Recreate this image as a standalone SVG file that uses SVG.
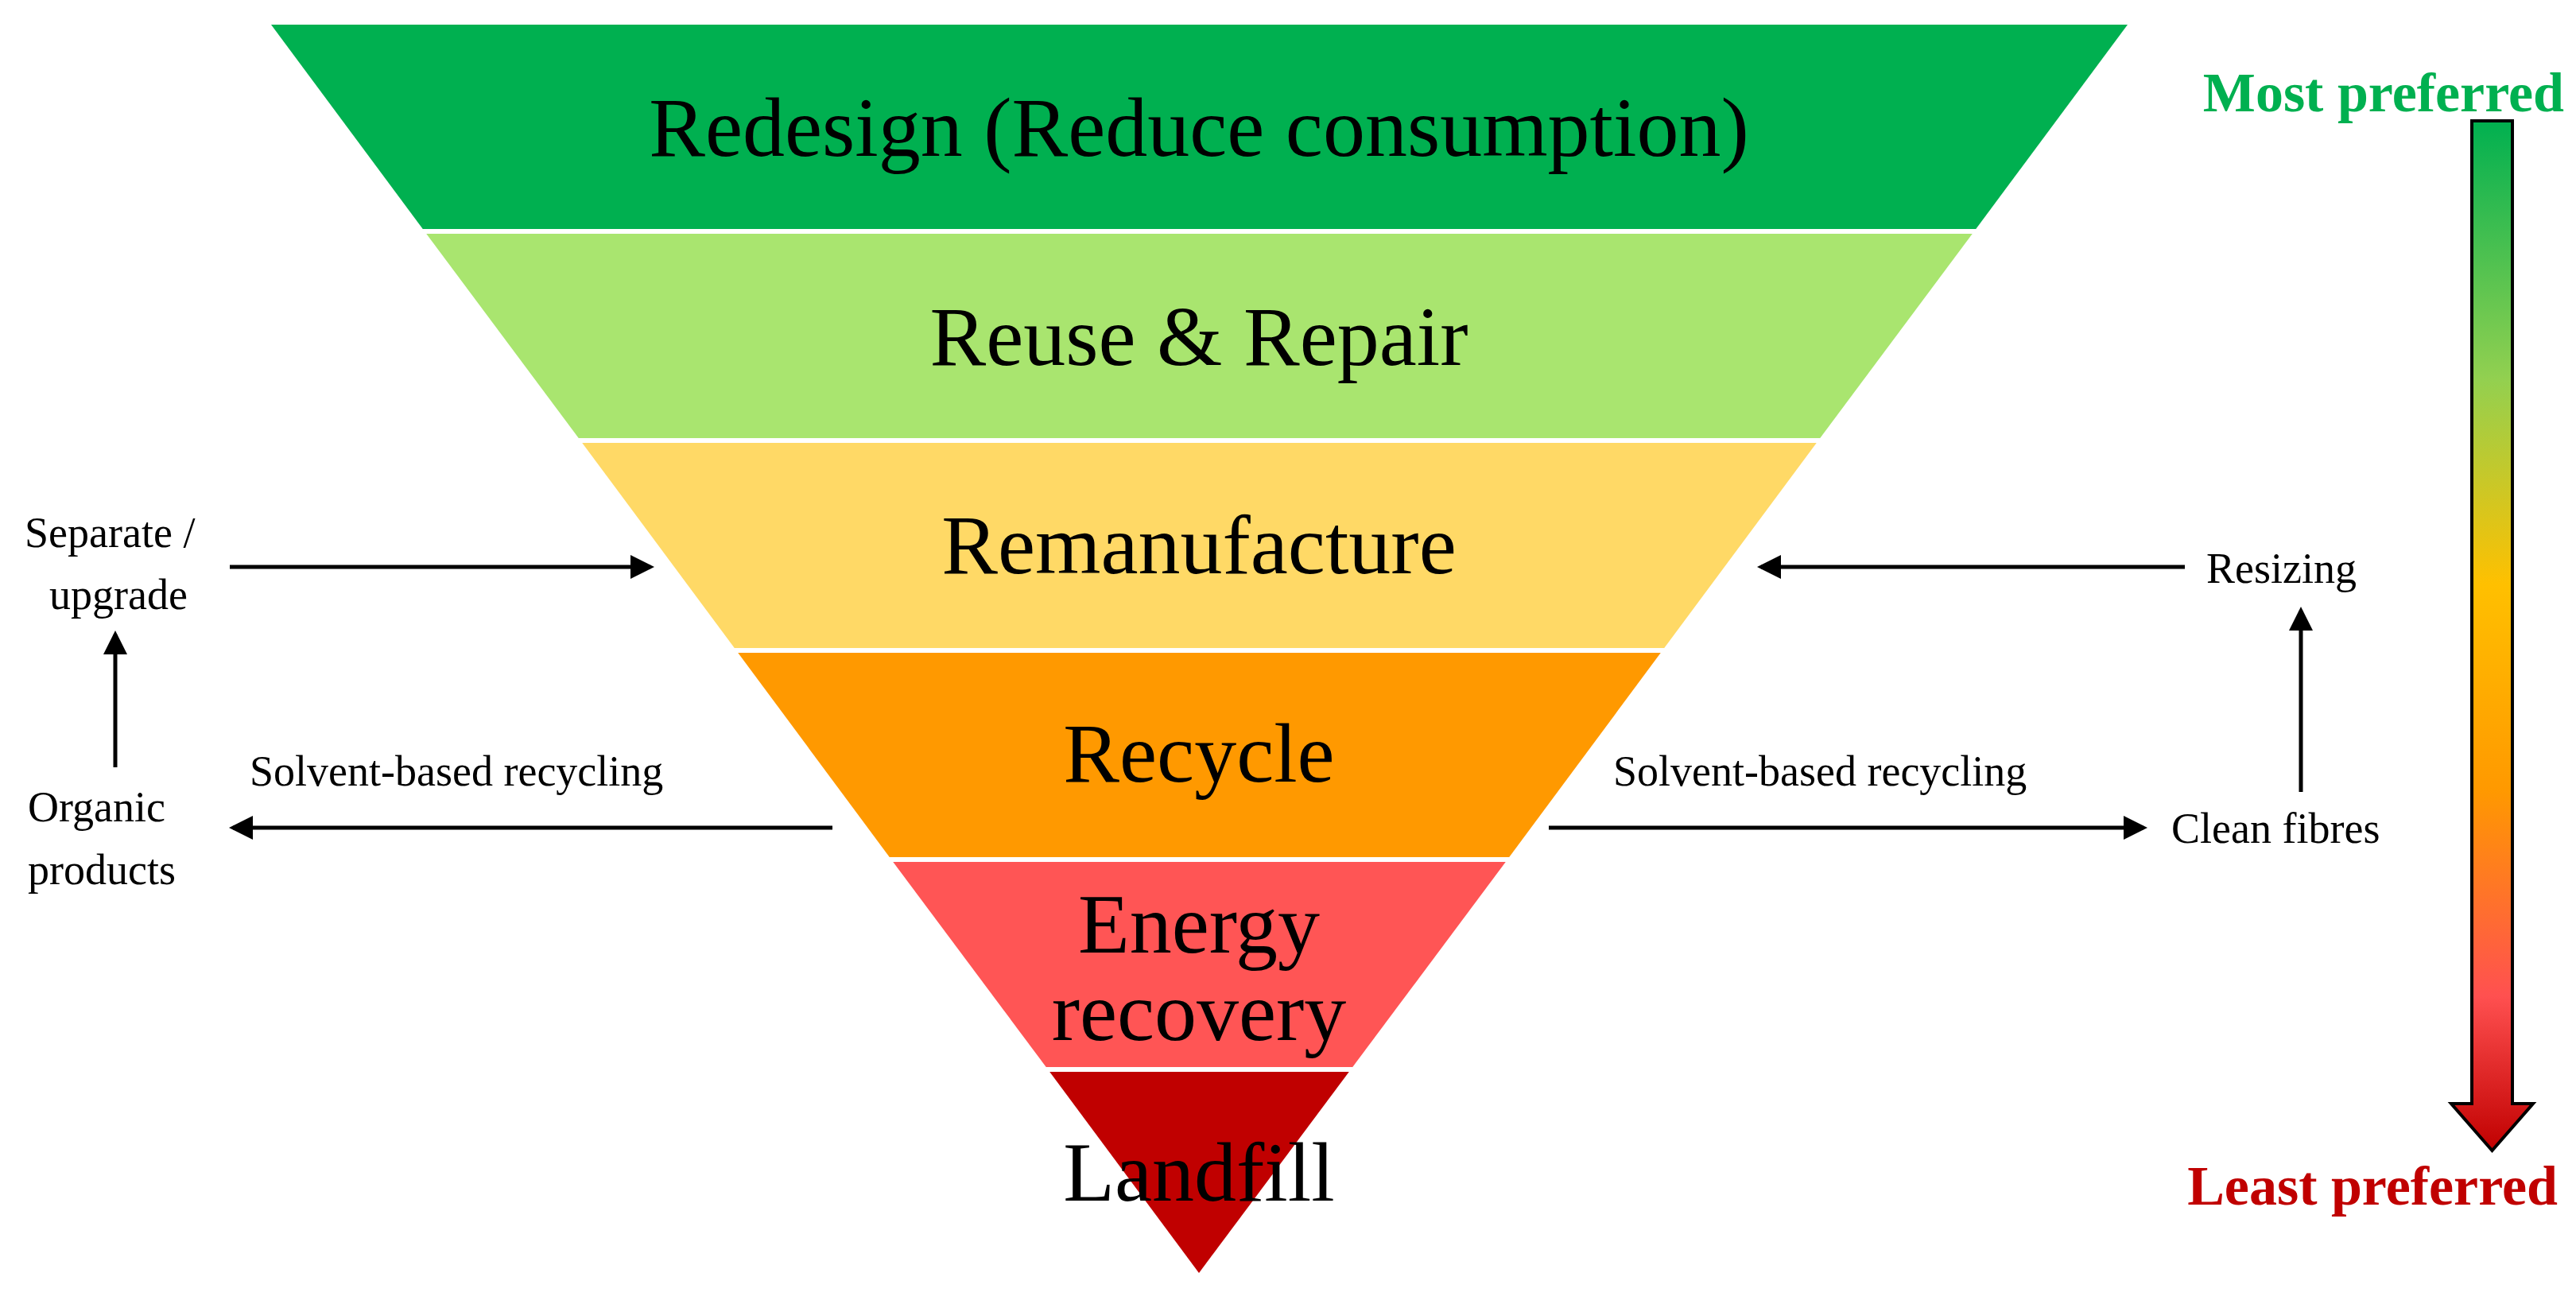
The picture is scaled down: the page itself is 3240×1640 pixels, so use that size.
<svg xmlns="http://www.w3.org/2000/svg" width="3240" height="1640" viewBox="0 0 3240 1640">
<style>
.big{font-family:"Liberation Serif",serif;font-size:106px;fill:#000;text-anchor:middle}
.sm{font-family:"Liberation Serif",serif;font-size:54px;fill:#000}
.pref{font-family:"Liberation Serif",serif;font-size:70px;font-weight:bold;text-anchor:end}
.ln{stroke:#000;stroke-width:5;fill:none;marker-end:url(#ah)}
.sep{stroke:#fff;stroke-width:6}
</style>
<defs>
<marker id="ah" markerWidth="6" markerHeight="6" refX="5" refY="3" orient="auto" markerUnits="strokeWidth"><path d="M0,0 L6,3 L0,6 Z" fill="#000"/></marker>
<linearGradient id="g" x1="0" y1="0" x2="0" y2="1">
<stop offset="0" stop-color="#00B050"/><stop offset="0.25" stop-color="#92D050"/><stop offset="0.45" stop-color="#FFC000"/><stop offset="0.65" stop-color="#FF9900"/><stop offset="0.85" stop-color="#FF5050"/><stop offset="1" stop-color="#C00000"/>
</linearGradient>
</defs>
<rect width="3240" height="1640" fill="#fff"/>
<g id="redesign"><polygon points="341,31 2676,31 2483,291 534,291" fill="#00B050"/><text class="big" x="1508" y="196">Redesign (Reduce consumption)</text></g>
<g id="reuse"><polygon points="534,291 2483,291 2287,554 730,554" fill="#A9E56F"/><text class="big" x="1508" y="459">Reuse &amp; Repair</text></g>
<g id="remanufacture"><polygon points="730,554 2287,554 2091,818 926,818" fill="#FFD966"/><text class="big" x="1508" y="721">Remanufacture</text></g>
<g id="recycle"><polygon points="926,818 2091,818 1896,1081 1121,1081" fill="#FF9900"/><text class="big" x="1508" y="983">Recycle</text></g>
<g id="energy"><polygon points="1121,1081 1896,1081 1699,1345 1318,1345" fill="#FF5555"/><text class="big" x="1508" y="1198">Energy</text><text class="big" x="1508" y="1308">recovery</text></g>
<g id="landfill"><polygon points="1318,1345 1699,1345 1508,1601" fill="#C00000"/><text class="big" x="1508" y="1510">Landfill</text></g>
<g id="separators"><line class="sep" x1="300" y1="291" x2="2700" y2="291"/><line class="sep" x1="300" y1="554" x2="2700" y2="554"/><line class="sep" x1="300" y1="818" x2="2700" y2="818"/><line class="sep" x1="300" y1="1081" x2="2700" y2="1081"/><line class="sep" x1="300" y1="1345" x2="2700" y2="1345"/></g>
<g id="separate"><text class="sm" x="31" y="688">Separate /</text><text class="sm" x="62" y="766">upgrade</text></g>
<g id="organic"><text class="sm" x="35" y="1033">Organic</text><text class="sm" x="35" y="1112">products</text></g>
<g id="resizing"><text class="sm" x="2775" y="733">Resizing</text></g>
<g id="clean"><text class="sm" x="2731" y="1060">Clean fibres</text></g>
<g id="connectors">
<line class="ln" x1="289" y1="713" x2="818" y2="713"/>
<line class="ln" x1="145" y1="965" x2="145" y2="798"/>
<line class="ln" x1="1047" y1="1041" x2="293" y2="1041"/>
<text class="sm" x="314" y="988">Solvent-based recycling</text>
<line class="ln" x1="1948" y1="1041" x2="2696" y2="1041"/>
<text class="sm" x="2029" y="988">Solvent-based recycling</text>
<line class="ln" x1="2894" y1="996" x2="2894" y2="768"/>
<line class="ln" x1="2748" y1="713" x2="2215" y2="713"/>
</g>
<g id="scale">
<text class="pref" x="3225" y="140" fill="#00B050">Most preferred</text>
<path d="M3109,152 H3160 V1388 H3186 L3134.5,1447 L3083,1388 H3109 Z" fill="url(#g)" stroke="#000" stroke-width="4"/>
<text class="pref" x="3217" y="1515" fill="#C00000">Least preferred</text>
</g>
</svg>
